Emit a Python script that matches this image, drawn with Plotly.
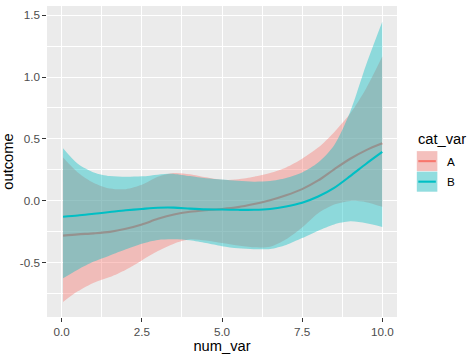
import plotly.graph_objects as go

# ---------------- data ----------------
num_var = [0.04, 0.5, 1.0, 1.5, 2.0, 2.5, 3.0, 3.5, 4.0, 4.5, 5.0,
           5.5, 6.0, 6.5, 7.0, 7.5, 8.0, 8.5, 9.0, 9.5, 10.0]

fit_A = [-0.280, -0.270, -0.262, -0.250, -0.225, -0.190, -0.145, -0.110, -0.088, -0.075, -0.065,
         -0.050, -0.025, 0.005, 0.045, 0.095, 0.165, 0.255, 0.340, 0.410, 0.465]
upper_A = [0.350, 0.230, 0.145, 0.100, 0.095, 0.130, 0.195, 0.225, 0.215, 0.190, 0.170,
           0.175, 0.195, 0.225, 0.270, 0.340, 0.430, 0.555, 0.705, 0.910, 1.165]
lower_A = [-0.815, -0.730, -0.660, -0.615, -0.555, -0.480, -0.405, -0.345, -0.310, -0.320, -0.340,
           -0.360, -0.375, -0.370, -0.310, -0.215, -0.100, -0.030, 0.000, -0.010, -0.048]

fit_B = [-0.128, -0.118, -0.104, -0.090, -0.076, -0.065, -0.055, -0.054, -0.062, -0.068, -0.070,
         -0.072, -0.072, -0.065, -0.045, -0.015, 0.035, 0.105, 0.200, 0.300, 0.395]
upper_B = [0.425, 0.300, 0.230, 0.200, 0.194, 0.198, 0.212, 0.218, 0.200, 0.182, 0.172,
           0.162, 0.155, 0.160, 0.185, 0.230, 0.310, 0.450, 0.720, 1.100, 1.445]
lower_B = [-0.625, -0.555, -0.490, -0.440, -0.390, -0.345, -0.315, -0.310, -0.318, -0.340, -0.365,
           -0.382, -0.390, -0.388, -0.355, -0.300, -0.240, -0.190, -0.165, -0.180, -0.210]

categories = ["A", "B"]
x_tick_vals = [0, 2.5, 5, 7.5, 10]
x_tick_text = ["0.0", "2.5", "5.0", "7.5", "10.0"]
y_tick_vals = [-0.5, 0, 0.5, 1.0, 1.5]
y_tick_text = ["-0.5", "0.0", "0.5", "1.0", "1.5"]

# ---------------- styling ----------------
W, H = 474, 356
L, R, T, B = 47, 396.7, 6, 316.7
line_col = {"A": "#F8766D", "B": "#00BFC4"}
fill_col = {"A": "rgba(248,118,109,0.4)", "B": "rgba(0,191,196,0.4)"}
FONT = "Liberation Sans, Arial, sans-serif"
SMOOTH = 0.8

series = {
    "A": (fit_A, upper_A, lower_A),
    "B": (fit_B, upper_B, lower_B),
}

fig = go.Figure()
for cat in categories:
    fit, up, lo = series[cat]
    fig.add_trace(go.Scatter(x=num_var, y=lo, mode="lines",
                             line=dict(width=0, shape="spline", smoothing=SMOOTH),
                             showlegend=False, hoverinfo="skip"))
    fig.add_trace(go.Scatter(x=num_var, y=up, mode="lines",
                             line=dict(width=0, shape="spline", smoothing=SMOOTH),
                             fill="tonexty", fillcolor=fill_col[cat], showlegend=False, hoverinfo="skip"))
    fig.add_trace(go.Scatter(x=num_var, y=fit, mode="lines", name=cat,
                             line=dict(color=line_col[cat], width=2.1, shape="spline", smoothing=SMOOTH),
                             showlegend=False))

def px_x(p):
    return (p - L) / (R - L)

def px_y(p):
    return (B - p) / (B - T)

# manual legend (ggplot style)
shapes = []
annotations = []
key_x0, key_x1 = 416.5, 437.0
key_rows = {"A": (151.0, 171.0), "B": (171.5, 191.5)}
for cat in categories:
    y0, y1 = key_rows[cat]
    shapes.append(dict(type="rect", xref="paper", yref="paper",
                       x0=px_x(key_x0), x1=px_x(key_x1), y0=px_y(y1), y1=px_y(y0),
                       fillcolor="#F2F2F2", line=dict(width=0), layer="above"))
    shapes.append(dict(type="rect", xref="paper", yref="paper",
                       x0=px_x(key_x0), x1=px_x(key_x1), y0=px_y(y1), y1=px_y(y0),
                       fillcolor=fill_col[cat], line=dict(width=0), layer="above"))
    ym = (y0 + y1) / 2
    shapes.append(dict(type="line", xref="paper", yref="paper",
                       x0=px_x(key_x0 + 1.5), x1=px_x(key_x1 - 1.5), y0=px_y(ym), y1=px_y(ym),
                       line=dict(color=line_col[cat], width=2.1), layer="above"))
    annotations.append(dict(text=cat, xref="paper", yref="paper", x=px_x(444.5), y=px_y(ym),
                            xanchor="left", yanchor="middle", showarrow=False,
                            font=dict(family=FONT, size=11.7, color="#000000")))
annotations.append(dict(text="cat_var", xref="paper", yref="paper", x=px_x(416), y=px_y(139),
                        xanchor="left", yanchor="middle", showarrow=False,
                        font=dict(family=FONT, size=14.7, color="#000000")))

axis_common = dict(
    showgrid=True, gridcolor="#FFFFFF", gridwidth=1.1, zeroline=False,
    ticks="outside", ticklen=3.7, tickwidth=1, tickcolor="#333333",
    tickfont=dict(family=FONT, size=11.7, color="#4D4D4D"),
    showline=False, automargin=False,
    minor=dict(showgrid=True, gridcolor="#FFFFFF", gridwidth=0.55, ticks=""),
)

fig.update_layout(
    width=W, height=H,
    margin=dict(l=L, r=W - R, t=T, b=H - B, pad=0, autoexpand=False),
    paper_bgcolor="#FFFFFF", plot_bgcolor="#EBEBEB",
    showlegend=False,
    xaxis=dict(range=[-0.46, 10.46], tickvals=x_tick_vals, ticktext=x_tick_text,
               minor_dtick=1.25, minor_tick0=0,
               title=dict(text="num_var", font=dict(family=FONT, size=14.7, color="#000000"), standoff=1),
               **axis_common),
    yaxis=dict(range=[-0.937, 1.573], tickvals=y_tick_vals, ticktext=y_tick_text,
               minor_dtick=0.25, minor_tick0=0,
               title=dict(text="outcome", font=dict(family=FONT, size=14.7, color="#000000"), standoff=4),
               **axis_common),
    shapes=shapes, annotations=annotations,
)

fig.write_html("out.html", config={"displayModeBar": False},
               post_script="document.body.style.margin='0';document.body.style.padding='0';")
